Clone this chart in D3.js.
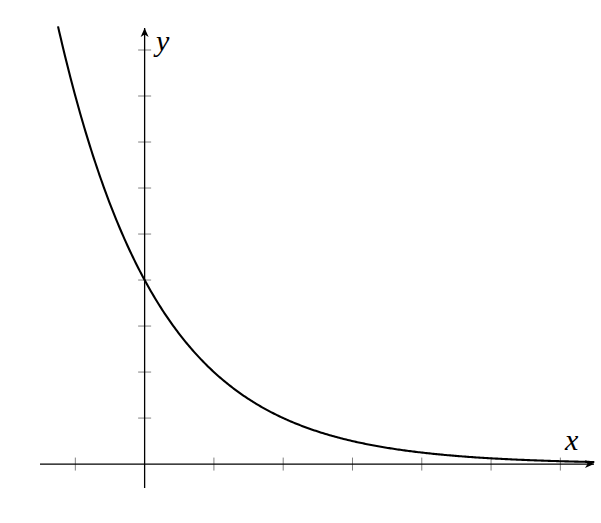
<!DOCTYPE html>
<html>
<head>
<meta charset="utf-8">
<script src="https://cdn.jsdelivr.net/npm/d3@7"></script>
<style>
  body { margin: 0; background: #fff; }
  svg text { font-family: "Liberation Serif", "DejaVu Serif", serif; font-style: italic; }
</style>
</head>
<body>
<div id="graphic"></div>
<script>
// axis ranges and ticks
var xDomain = [-1.51, 6.5];
var yDomain = [-0.52, 9.5];
var xTicks = [-1, 1, 2, 3, 4, 5, 6];
var yTicks = [1, 2, 3, 4, 5, 6, 7, 8, 9];
// curve y = 4 * (1/2)^x, sampled
var curveA = 4;
var curveBase = 0.5;
var curveStart = -1.25;
var curveEnd = 6.5;

var width = 601, height = 523;

var x = d3.scaleLinear().domain(xDomain).range([40, 595]);
var y = d3.scaleLinear().domain(yDomain).range([488, 27]);

var svg = d3.select("#graphic").append("svg")
  .attr("width", width).attr("height", height);

var defs = svg.append("defs");
defs.append("marker")
  .attr("id", "arrow")
  .attr("viewBox", "-10 -5 11 10")
  .attr("refX", 0).attr("refY", 0)
  .attr("markerWidth", 11).attr("markerHeight", 10)
  .attr("markerUnits", "userSpaceOnUse")
  .attr("orient", "auto")
  .append("path")
  .attr("d", "M-9,-4 L0,0 L-9,4 L-6.5,0 Z")
  .attr("fill", "#000");

// ticks
var g = svg.append("g");
g.selectAll("line.xt").data(xTicks).enter().append("line")
  .attr("class", "xt")
  .attr("x1", function(d) { return x(d); })
  .attr("x2", function(d) { return x(d); })
  .attr("y1", y(0) - 6.5).attr("y2", y(0) + 6.5)
  .attr("stroke", "#808080").attr("stroke-width", 1);
g.selectAll("line.yt").data(yTicks).enter().append("line")
  .attr("class", "yt")
  .attr("y1", function(d) { return y(d); })
  .attr("y2", function(d) { return y(d); })
  .attr("x1", x(0) - 6.5).attr("x2", x(0) + 6.5)
  .attr("stroke", "#808080").attr("stroke-width", 1);

// axes
g.append("line")
  .attr("x1", x(xDomain[0])).attr("x2", x(xDomain[1]) - 1)
  .attr("y1", y(0)).attr("y2", y(0))
  .attr("stroke", "#000").attr("stroke-width", 1.3)
  .attr("marker-end", "url(#arrow)");
g.append("line")
  .attr("x1", x(0)).attr("x2", x(0))
  .attr("y1", y(yDomain[0])).attr("y2", y(yDomain[1]) + 1)
  .attr("stroke", "#000").attr("stroke-width", 1.3)
  .attr("marker-end", "url(#arrow)");

// curve
var pts = d3.range(curveStart, curveEnd + 0.001, 0.02).map(function(t) {
  return [t, curveA * Math.pow(curveBase, t)];
});
var line = d3.line()
  .x(function(d) { return x(d[0]); })
  .y(function(d) { return y(d[1]); });
g.append("path")
  .datum(pts)
  .attr("d", line)
  .attr("fill", "none")
  .attr("stroke", "#000")
  .attr("stroke-width", 2.1);

// labels
g.append("text").text("y")
  .attr("x", 156).attr("y", 51)
  .attr("font-size", 30);
g.append("text").text("x")
  .attr("x", 565).attr("y", 450)
  .attr("font-size", 30);
</script>
</body>
</html>
